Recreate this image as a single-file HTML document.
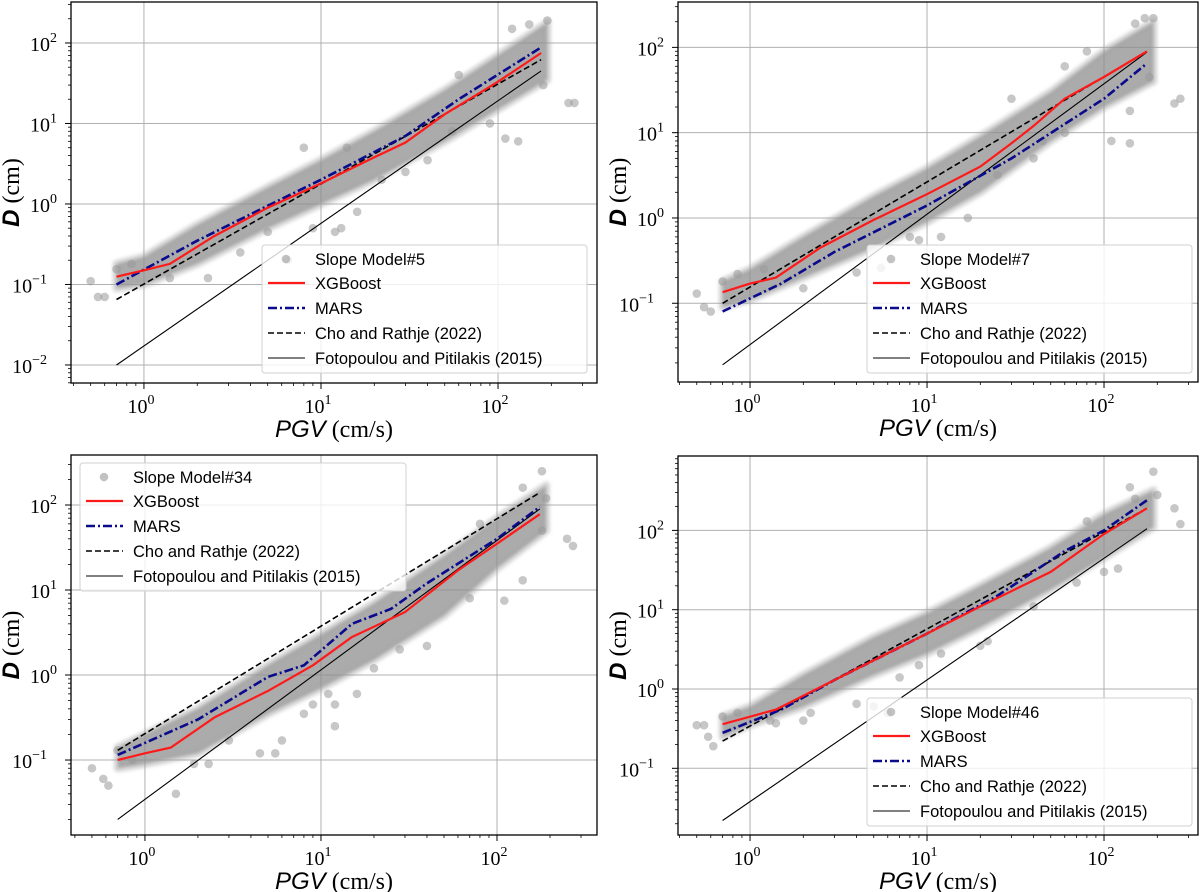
<!DOCTYPE html>
<html><head><meta charset="utf-8"><style>
html,body{margin:0;padding:0;background:#fff;}
svg{display:block;}
text{font-family:"Liberation Serif",serif;}
.lg{font-family:"Liberation Sans","DejaVu Sans",sans-serif;font-size:16.5px;}
</style></head><body>
<svg id="fig" width="1200" height="892" viewBox="0 0 1200 892" xmlns="http://www.w3.org/2000/svg"></svg>
<script>
// ---- data ----
const modelNames = ["Slope Model#5","Slope Model#7","Slope Model#34","Slope Model#46"];
const bandX = [0.7,1,2,5,10,20,50,100,190];
const bandHi1 = [0.18,0.22,0.55,1.6,3.5,8,26,70,180];
const bandLo1 = [0.09,0.1,0.18,0.5,1.0,2.0,6,15,35];
const bandHi2 = [0.18,0.25,0.6,1.8,3.8,9,30,90,200];
const bandLo2 = [0.09,0.11,0.2,0.45,0.9,2,8,20,40];
const bandHi3 = [0.14,0.2,0.4,1.3,3,7,25,70,170];
const bandLo3 = [0.08,0.09,0.12,0.35,0.7,1.5,5,18,50];
const bandHi4 = [0.45,0.6,1.5,4.5,9,20,60,160,320];
const bandLo4 = [0.25,0.35,0.6,1.5,2.8,6,18,45,110];
const pts1 = [[0.5,0.11],[0.55,0.07],[0.6,0.07],[0.7,0.155],[0.85,0.18],[1.4,0.12],[2.3,0.12],[3.5,0.25],[5,0.45],[6.5,0.2],[9,0.5],[12,0.45],[13,0.5],[16,0.8],[22,2],[30,2.5],[40,3.5],[55,8],[90,10],[110,6.5],[130,6],[150,170],[190,190],[180,30],[250,18],[270,18],[120,150],[14,5],[8,5],[60,40]];
const pts2 = [[0.5,0.13],[0.55,0.09],[0.6,0.08],[0.7,0.18],[0.85,0.22],[1.2,0.25],[2,0.15],[4,0.23],[5.5,0.26],[8,0.6],[9,0.55],[12,0.6],[17,1.0],[25,3.2],[40,5],[45,8],[60,10],[110,8],[140,7.5],[150,190],[170,220],[190,220],[180,45],[250,22],[270,25],[140,18],[30,25],[80,90],[60,60]];
const pts3 = [[0.5,0.08],[0.58,0.06],[0.62,0.05],[0.7,0.13],[0.85,0.1],[1.5,0.04],[1.9,0.09],[2.3,0.09],[3,0.17],[4.5,0.12],[5.5,0.12],[6,0.17],[8,0.35],[9,0.45],[11,0.6],[12,0.25],[12,0.45],[16,0.6],[20,1.2],[28,2],[40,2.2],[70,8],[110,7.5],[140,13],[180,250],[190,120],[180,50],[250,40],[270,33],[80,60],[140,160]];
const pts4 = [[0.5,0.35],[0.55,0.35],[0.58,0.25],[0.62,0.19],[0.7,0.45],[0.85,0.5],[1.3,0.4],[1.4,0.37],[2,0.4],[2.2,0.5],[4,0.65],[5,0.6],[6,0.5],[7,1.4],[9,2],[12,2.8],[20,3.5],[22,4],[40,11],[70,22],[100,30],[120,33],[140,350],[170,210],[190,550],[200,280],[250,190],[270,120],[80,130],[150,250]];
const xgb1 = [[0.7,0.125],[1,0.15],[1.4,0.18],[2.5,0.4],[5,0.9],[10,1.8],[20,3.8],[30,5.8],[50,13],[100,33],[175,75]];
const mars1 = [[0.7,0.1],[2,0.35],[5,0.95],[10,2],[30,7],[60,20],[175,88]];
const cho1 = [[0.7,0.065],[175,62]];
const foto1 = [[0.7,0.01],[175,45]];
const xgb2 = [[0.7,0.135],[1,0.17],[1.4,0.2],[2.5,0.45],[5,0.95],[10,1.9],[20,4],[30,7.5],[40,12],[60,25],[100,45],[175,90]];
const mars2 = [[0.7,0.08],[1.5,0.17],[3,0.4],[10,1.4],[30,5],[100,25],[175,65]];
const cho2 = [[0.7,0.1],[175,90]];
const foto2 = [[0.7,0.019],[175,88]];
const xgb3 = [[0.7,0.1],[1,0.12],[1.4,0.14],[2.5,0.32],[5,0.65],[9,1.3],[15,2.8],[30,5.5],[60,17],[100,35],[175,78]];
const mars3 = [[0.7,0.115],[2,0.3],[5,0.95],[8,1.3],[15,4],[25,6],[40,12],[100,40],[175,95]];
const cho3 = [[0.7,0.13],[175,140]];
const foto3 = [[0.7,0.02],[175,90]];
const xgb4 = [[0.7,0.36],[1.4,0.55],[3,1.3],[10,5],[20,11],[50,30],[100,90],[175,190]];
const mars4 = [[0.7,0.28],[1.5,0.55],[3,1.3],[10,5],[25,15],[60,55],[100,100],[175,240]];
const cho4 = [[0.7,0.22],[175,190]];
const foto4 = [[0.7,0.022],[175,105]];
const xTicks = [0,1,2];
const yTicks1 = [-2,-1,0,1,2];
const yTicks2 = [-1,0,1,2];
const legendLabels = ["XGBoost","MARS","Cho and Rathje (2022)","Fotopoulou and Pitilakis (2015)"];

// ---- layout ----
const panels = [
 {L:71,R:597,T:2,B:383,xd:[-0.412,2.559],yd:[-2.224,2.509],yt:yTicks1,band:[bandLo1,bandHi1],pts:pts1,lines:[xgb1,mars1,cho1,foto1],leg:{x:262,y:245,w:325,h:128}},
 {L:678,R:1198,T:2,B:382,xd:[-0.407,2.531],yd:[-1.923,2.532],yt:yTicks2,band:[bandLo2,bandHi2],pts:pts2,lines:[xgb2,mars2,cho2,foto2],leg:{x:867,y:245,w:325,h:128}},
 {L:71,R:597,T:455,B:835,xd:[-0.420,2.568],yd:[-1.882,2.588],yt:yTicks2,band:[bandLo3,bandHi3],pts:pts3,lines:[xgb3,mars3,cho3,foto3],leg:{x:80,y:463,w:326,h:128}},
 {L:678,R:1198,T:456,B:835,xd:[-0.407,2.531],yd:[-1.841,2.938],yt:yTicks2,band:[bandLo4,bandHi4],pts:pts4,lines:[xgb4,mars4,cho4,foto4],leg:{x:867,y:698,w:325,h:128}}
];
const styles = [
 {stroke:"#ff1a1a",w:2.2,dash:""},
 {stroke:"#0a0a8c",w:2.6,dash:"9,3,2,3"},
 {stroke:"#000",w:1.6,dash:"6,3"},
 {stroke:"#000",w:1.1,dash:""}
];
const NS="http://www.w3.org/2000/svg";
const fig=document.getElementById('fig');
function mk(tag,attrs,parent){const e=document.createElementNS(NS,tag);for(const k in attrs)e.setAttribute(k,attrs[k]);(parent||fig).appendChild(e);return e;}
const defs=mk('defs',{});
const flt=mk('filter',{id:'soft',x:'-5%',y:'-5%',width:'110%',height:'110%'},defs);
mk('feGaussianBlur',{stdDeviation:1.5},flt);

panels.forEach((p,pi)=>{
 const g=mk('g',{});
 
 
 const sx=v=>p.L+(Math.log10(v)-p.xd[0])/(p.xd[1]-p.xd[0])*(p.R-p.L);
 const sy=v=>p.B-(Math.log10(v)-p.yd[0])/(p.yd[1]-p.yd[0])*(p.B-p.T);
 const clip='clip'+pi;
 const cp=mk('clipPath',{id:clip},g);mk('rect',{x:p.L,y:p.T,width:p.R-p.L,height:p.B-p.T},cp);
 xTicks.forEach(t=>{const x=sx(Math.pow(10,t));const l=mk('line',{x1:x,x2:x,y1:p.T,y2:p.B,stroke:"#b0b0b0","stroke-width":1},g);});
 p.yt.forEach(t=>{const y=sy(Math.pow(10,t));const l=mk('line',{x1:p.L,x2:p.R,y1:y,y2:y,stroke:"#b0b0b0","stroke-width":1},g);});
 const dg=mk('g',{"clip-path":"url(#"+clip+")"},g);
 let d='';
 bandX.forEach((x,i)=>{d+=(i?'L':'M')+sx(x).toFixed(1)+','+sy(p.band[1][i]).toFixed(1);});
 for(let i=bandX.length-1;i>=0;i--){d+='L'+sx(bandX[i]).toFixed(1)+','+sy(p.band[0][i]).toFixed(1);}
 const band=mk('path',{d:d+'Z',fill:"#8a8a8a","fill-opacity":0.72,stroke:"#a0a0a0","stroke-width":8,"stroke-opacity":0.4,"stroke-linejoin":"round",filter:"url(#soft)"},dg);
 
 
 p.pts.forEach(pt=>{const c=mk('circle',{cx:sx(pt[0]),cy:sy(pt[1]),r:4.3,fill:"#999","fill-opacity":0.55},dg);
  });
 const lnames=['xgboost-line','mars-line','cho-rathje-line','fotopoulou-line'];
 [3,2,1,0].forEach(k=>{const s=styles[k];const pl=mk('polyline',{points:p.lines[k].map(q=>sx(q[0]).toFixed(1)+','+sy(q[1]).toFixed(1)).join(' '),fill:"none",stroke:s.stroke,"stroke-width":s.w,"stroke-dasharray":s.dash},dg);
  });
 const fr=mk('rect',{x:p.L,y:p.T,width:p.R-p.L,height:p.B-p.T,fill:"none",stroke:"#000","stroke-width":1.3},g);
 
 for(let e=-3;e<=3;e++)for(let m=2;m<=9;m++){const v=m*Math.pow(10,e);
  const x=sx(v);if(x>p.L&&x<p.R)mk('line',{x1:x,x2:x,y1:p.B,y2:p.B+3,stroke:"#000","stroke-width":0.8},g);
  const y=sy(v);if(y>p.T&&y<p.B)mk('line',{x1:p.L,x2:p.L-3,y1:y,y2:y,stroke:"#000","stroke-width":0.8},g);}
 xTicks.forEach(t=>{const x=sx(Math.pow(10,t));mk('line',{x1:x,x2:x,y1:p.B,y2:p.B+6,stroke:"#000","stroke-width":1},g);
  const tx=mk('text',{x:x-3,y:p.B+30,"text-anchor":"middle","font-size":20},g);tx.textContent='10';
  const sp=mk('tspan',{dy:-9,"font-size":14},tx);sp.textContent=String(t);
  });
 p.yt.forEach(t=>{const y=sy(Math.pow(10,t));mk('line',{x1:p.L,x2:p.L-6,y1:y,y2:y,stroke:"#000","stroke-width":1},g);
  const tx=mk('text',{x:p.L-(t<0?24:14),y:y+8,"text-anchor":"end","font-size":20},g);tx.textContent='10';
  const sp=mk('tspan',{dy:-9,"font-size":14},tx);sp.textContent=String(t).replace('-','\u2212');
  });
 const xt=mk('text',{x:(p.L+p.R)/2,y:p.B+54,"text-anchor":"middle","font-size":24},g);
 xt.innerHTML='<tspan font-family="Liberation Sans, sans-serif" font-style="italic">PGV</tspan> (cm/s)';
 
 const cy=(p.T+p.B)/2;const yx=p.L-52;
 const yt=mk('text',{x:yx,y:cy,"text-anchor":"middle","font-size":24,transform:`rotate(-90 ${yx} ${cy})`},g);
 yt.innerHTML='<tspan font-family="Liberation Sans, sans-serif" font-style="italic" font-weight="bold">D</tspan> (cm)';
 
 const lg=mk('g',{},g);
 mk('rect',{x:p.leg.x,y:p.leg.y,width:p.leg.w,height:p.leg.h,rx:3,fill:"#fff","fill-opacity":0.8,stroke:"#d0d0d0","stroke-width":1},lg);
 const hx=p.leg.x+6, tx0=p.leg.x+53;
 const r0=p.leg.y+13;
 const e0=mk('g',{},lg);
 mk('circle',{cx:hx+18,cy:r0+1,r:4.3,fill:"#999","fill-opacity":0.6},e0);
 const t0=mk('text',{x:tx0,y:r0+7,class:"lg"},e0);t0.textContent=modelNames[pi];
 legendLabels.forEach((lab,k)=>{const y=r0+25*(k+1);const s=styles[k];
  const e=mk('g',{},lg);
  mk('line',{x1:hx,x2:hx+37,y1:y,y2:y,stroke:s.stroke,"stroke-width":s.w,"stroke-dasharray":s.dash},e);
  const t=mk('text',{x:tx0,y:y+6,class:"lg"},e);t.textContent=lab;});
});
</script>
</body></html>
